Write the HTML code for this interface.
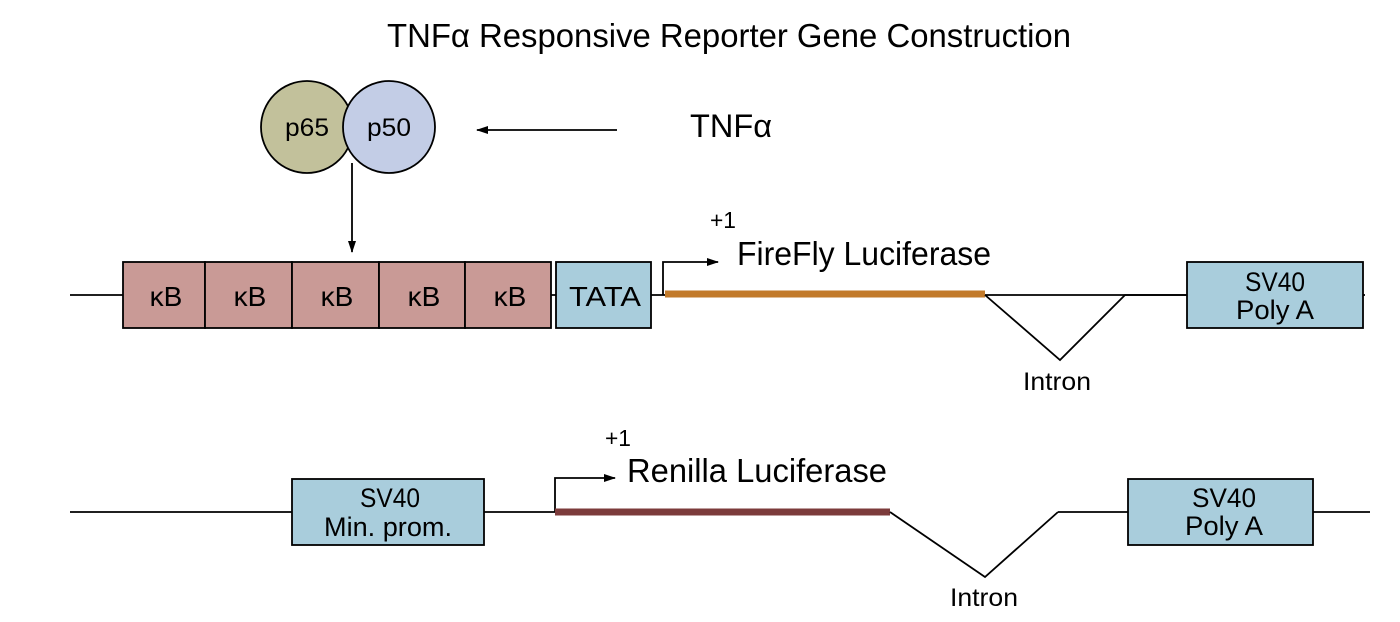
<!DOCTYPE html>
<html><head><meta charset="utf-8"><style>
html,body{margin:0;padding:0;background:#fff;}
svg{display:block;}
text{font-family:"Liberation Sans",sans-serif;fill:#000;}
</style></head><body>
<svg width="1400" height="622" viewBox="0 0 1400 622" xmlns="http://www.w3.org/2000/svg">
<defs>
<marker id="ah" markerWidth="12" markerHeight="10" refX="11" refY="5" orient="auto" markerUnits="userSpaceOnUse">
<path d="M0,1 L12,5 L0,9 Z" fill="#000"/>
</marker>
</defs>
<text x="387" y="47" font-size="33" textLength="684" lengthAdjust="spacingAndGlyphs">TNFα Responsive Reporter Gene Construction</text>

<circle cx="307" cy="127" r="46" fill="#c2c19b" stroke="#000" stroke-width="1.8"/>
<circle cx="389" cy="127" r="46" fill="#c3cde6" stroke="#000" stroke-width="1.8"/>
<text x="307" y="136" font-size="25" text-anchor="middle" textLength="44" lengthAdjust="spacingAndGlyphs">p65</text>
<text x="389" y="136" font-size="25" text-anchor="middle" textLength="44" lengthAdjust="spacingAndGlyphs">p50</text>

<line x1="617" y1="130" x2="477" y2="130" stroke="#000" stroke-width="1.8" marker-end="url(#ah)"/>
<text x="690" y="137" font-size="32" textLength="82" lengthAdjust="spacingAndGlyphs">TNFα</text>
<line x1="352" y1="163" x2="352" y2="252" stroke="#000" stroke-width="1.8" marker-end="url(#ah)"/>

<!-- row 1 -->
<line x1="70" y1="295" x2="1365" y2="295" stroke="#000" stroke-width="1.8"/>
<g fill="#c99a96" stroke="#000" stroke-width="1.8">
<rect x="123" y="262" width="82" height="66"/>
<rect x="205" y="262" width="87" height="66"/>
<rect x="292" y="262" width="87" height="66"/>
<rect x="379" y="262" width="86" height="66"/>
<rect x="465" y="262" width="86" height="66"/>
</g>
<g font-size="28" text-anchor="middle">
<text x="166" y="306">κB</text><text x="250" y="306">κB</text><text x="337" y="306">κB</text><text x="424" y="306">κB</text><text x="510" y="306">κB</text>
</g>
<rect x="556" y="262" width="95" height="66" fill="#a9cddc" stroke="#000" stroke-width="1.8"/>
<text x="605" y="306" font-size="28" text-anchor="middle" textLength="72" lengthAdjust="spacingAndGlyphs">TATA</text>
<polyline points="663,295 663,262 718,262" fill="none" stroke="#000" stroke-width="1.8" marker-end="url(#ah)"/>
<text x="710" y="228" font-size="23" textLength="26" lengthAdjust="spacingAndGlyphs">+1</text>
<text x="737" y="265" font-size="33" textLength="254" lengthAdjust="spacingAndGlyphs">FireFly Luciferase</text>
<line x1="665" y1="294" x2="985" y2="294" stroke="#c27a2a" stroke-width="7"/>
<polyline points="985,295 1060,360 1125,295 1187,295" fill="none" stroke="#000" stroke-width="1.8"/>
<text x="1057" y="390" font-size="25" text-anchor="middle" textLength="68" lengthAdjust="spacingAndGlyphs">Intron</text>
<rect x="1187" y="262" width="176" height="66" fill="#a9cddc" stroke="#000" stroke-width="1.8"/>
<text x="1275" y="291" font-size="27" text-anchor="middle" textLength="60" lengthAdjust="spacingAndGlyphs">SV40</text>
<text x="1275" y="319" font-size="27" text-anchor="middle" textLength="78" lengthAdjust="spacingAndGlyphs">Poly A</text>

<!-- row 2 -->
<line x1="70" y1="512" x2="555" y2="512" stroke="#000" stroke-width="1.8"/>
<line x1="1058" y1="512" x2="1370" y2="512" stroke="#000" stroke-width="1.8"/>
<rect x="292" y="479" width="192" height="66" fill="#a9cddc" stroke="#000" stroke-width="1.8"/>
<text x="390" y="507" font-size="27" text-anchor="middle" textLength="60" lengthAdjust="spacingAndGlyphs">SV40</text>
<text x="388" y="536" font-size="27" text-anchor="middle" textLength="128" lengthAdjust="spacingAndGlyphs">Min. prom.</text>
<polyline points="555,512 555,478 615,478" fill="none" stroke="#000" stroke-width="1.8" marker-end="url(#ah)"/>
<text x="605" y="446" font-size="23" textLength="26" lengthAdjust="spacingAndGlyphs">+1</text>
<text x="627" y="482" font-size="33" textLength="260" lengthAdjust="spacingAndGlyphs">Renilla Luciferase</text>
<line x1="555" y1="512" x2="890" y2="512" stroke="#7c3b3b" stroke-width="7"/>
<polyline points="890,512 985,577 1058,512" fill="none" stroke="#000" stroke-width="1.8"/>
<text x="984" y="606" font-size="25" text-anchor="middle" textLength="68" lengthAdjust="spacingAndGlyphs">Intron</text>
<rect x="1128" y="479" width="185" height="66" fill="#a9cddc" stroke="#000" stroke-width="1.8"/>
<text x="1224" y="507" font-size="27" text-anchor="middle" textLength="64" lengthAdjust="spacingAndGlyphs">SV40</text>
<text x="1224" y="535" font-size="27" text-anchor="middle" textLength="78" lengthAdjust="spacingAndGlyphs">Poly A</text>
</svg>
</body></html>
